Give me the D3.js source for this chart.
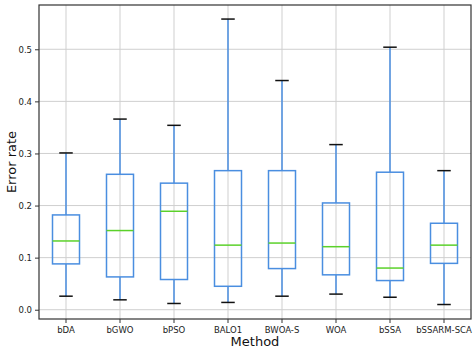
<!DOCTYPE html>
<html><head><meta charset="utf-8">
<script src="https://cdn.jsdelivr.net/npm/d3@7"></script>
<style>body{margin:0;background:#fff;} svg{display:block;font-family:"DejaVu Sans",sans-serif;}</style>
</head><body>
<script>
const methods = ["bDA","bGWO","bPSO","BALO1","BWOA-S","WOA","bSSA","bSSARM-SCA"];
const whiskerLow  = [0.026,0.019,0.012,0.014,0.026,0.030,0.024,0.010];
const q1          = [0.088,0.063,0.058,0.045,0.079,0.067,0.056,0.089];
const median      = [0.132,0.152,0.189,0.124,0.128,0.121,0.080,0.124];
const q3          = [0.182,0.260,0.243,0.267,0.267,0.205,0.264,0.166];
const whiskerHigh = [0.301,0.366,0.354,0.558,0.440,0.317,0.504,0.267];
const yTicks = [0.0,0.1,0.2,0.3,0.4,0.5];

const W=474,H=349, m={l:39,r:3,t:5,b:30};
const svg=d3.select("body").append("svg").attr("width",W).attr("height",H);
const x=d3.scaleBand().domain(methods).range([m.l,W-m.r]).padding(0);
const y=d3.scaleLinear().domain([-0.0178,0.585]).range([H-m.b,m.t]);
const boxC="#4a8ee0", medC="#5bd12a", gridC="#cfcfcf";

// grid
svg.append("g").selectAll("line").data(yTicks).join("line")
 .attr("x1",m.l).attr("x2",W-m.r).attr("y1",d=>y(d)).attr("y2",d=>y(d))
 .attr("stroke",gridC).attr("stroke-width",1);
svg.append("g").selectAll("line").data(methods).join("line")
 .attr("x1",d=>x(d)+x.bandwidth()/2).attr("x2",d=>x(d)+x.bandwidth()/2)
 .attr("y1",m.t).attr("y2",H-m.b).attr("stroke",gridC).attr("stroke-width",1);

// axes
const ax=svg.append("g").attr("transform",`translate(${m.l},0)`)
 .call(d3.axisLeft(y).tickValues(yTicks).tickFormat(d3.format(".1f")).tickSize(4).tickPadding(3));
const bx=svg.append("g").attr("transform",`translate(0,${H-m.b})`)
 .call(d3.axisBottom(x).tickSize(4).tickPadding(4));
[ax,bx].forEach(g=>{g.select(".domain").remove();g.selectAll("text").attr("font-size",8.5).attr("fill","#222").attr("font-family","DejaVu Sans");g.selectAll("line").attr("stroke","#333");});

// boxes
const bw=x.bandwidth()*0.5, cw=x.bandwidth()*0.25;
const g=svg.append("g");
methods.forEach((mth,i)=>{
  const cx=x(mth)+x.bandwidth()/2;
  g.append("line").attr("x1",cx).attr("x2",cx).attr("y1",y(q3[i])).attr("y2",y(whiskerHigh[i])).attr("stroke",boxC).attr("stroke-width",1.5);
  g.append("line").attr("x1",cx).attr("x2",cx).attr("y1",y(q1[i])).attr("y2",y(whiskerLow[i])).attr("stroke",boxC).attr("stroke-width",1.5);
  g.append("rect").attr("x",cx-bw/2).attr("width",bw).attr("y",y(q3[i])).attr("height",y(q1[i])-y(q3[i]))
    .attr("fill","none").attr("stroke",boxC).attr("stroke-width",1.5);
  g.append("line").attr("x1",cx-bw/2).attr("x2",cx+bw/2).attr("y1",y(median[i])).attr("y2",y(median[i])).attr("stroke",medC).attr("stroke-width",1.5);
  [whiskerLow[i],whiskerHigh[i]].forEach(v=>g.append("line").attr("x1",cx-cw/2).attr("x2",cx+cw/2).attr("y1",y(v)).attr("y2",y(v)).attr("stroke","#111").attr("stroke-width",1.5));
});

// frame
svg.append("rect").attr("x",m.l).attr("y",m.t).attr("width",W-m.l-m.r).attr("height",H-m.t-m.b)
 .attr("fill","none").attr("stroke","#333").attr("stroke-width",1.2);

// labels
svg.append("text").attr("x",(m.l+W-m.r)/2).attr("y",346).attr("text-anchor","middle").attr("font-size",13).attr("fill","#111").text("Method");
svg.append("text").attr("transform",`translate(16,${(m.t+H-m.b)/2}) rotate(-90)`).attr("text-anchor","middle").attr("font-size",13).attr("fill","#111").text("Error rate");
</script>
</body></html>
